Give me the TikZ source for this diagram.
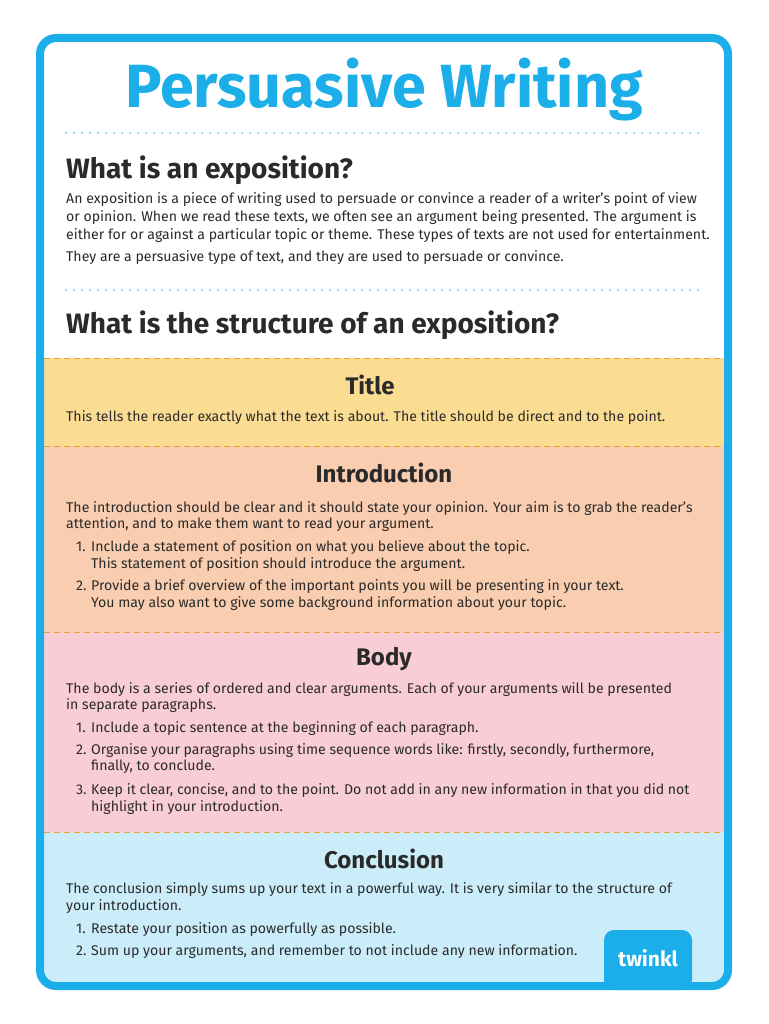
\documentclass[tikz,border=0pt]{standalone}
\usepackage{fontspec}
\setmainfont{Fira Sans}[Numbers=Lining]
\definecolor{tblue}{HTML}{1CAEE9}
\definecolor{tyel}{HTML}{FBDC93}
\definecolor{tpeach}{HTML}{F9CDB0}
\definecolor{tpink}{HTML}{F9CDD5}
\definecolor{tlblue}{HTML}{CBEDFA}
\definecolor{tdash}{HTML}{F0A030}
\definecolor{ttext}{HTML}{2A2A2A}
\begin{document}
\begin{tikzpicture}[x=1pt,y=-1pt,
  txt/.style={anchor=west,inner sep=0,font=\fontsize{14.1}{16}\selectfont,text=ttext},
  num/.style={anchor=west,inner sep=0,font=\fontsize{14.1}{16}\selectfont,text=ttext},
  shead/.style={anchor=center,inner sep=0,font=\fontsize{24}{28}\selectfont\bfseries,text=ttext},
  qhead/.style={anchor=west,inner sep=0,font=\fontsize{28}{32}\selectfont\bfseries,text=ttext},
  sep/.style={tdash,dashed,line width=1pt,dash pattern=on 6pt off 4pt},
  dots/.style={tblue!70,line width=2pt,line cap=round,dash pattern=on 0pt off 8pt}]
\useasboundingbox (0,0) rectangle (768,1024);
\fill[white] (0,0) rectangle (768,1024);
\begin{scope}
\clip[rounded corners=14pt] (42,40) rectangle (726,984);
\fill[tyel] (42,358) rectangle (726,446);
\fill[tpeach] (42,446) rectangle (726,632);
\fill[tpink] (42,632) rectangle (726,832);
\fill[tlblue] (42,832) rectangle (726,984);
\end{scope}
\draw[sep] (44,358) -- (724,358);
\draw[sep] (44,446) -- (724,446);
\draw[sep] (44,632) -- (724,632);
\draw[sep] (44,832) -- (724,832);
\draw[tblue,line width=8pt,rounded corners=16pt] (40,38) rectangle (728,986);
\draw[dots] (66,133) -- (702,133);
\draw[dots] (66,290) -- (702,290);
\node[inner sep=0,font=\fontsize{61}{68}\selectfont\bfseries,text=tblue] (title) at (384,90) {Persuasive Writing};
\node[qhead] (q1) at (66,170) {What is an exposition?};
\node[txt] (a1) at (66,200) {An exposition is a piece of writing used to persuade or convince a reader of a writer’s point of view};
\node[txt] (a2) at (66,218) {or opinion. When we read these texts, we often see an argument being presented. The argument is};
\node[txt] (a3) at (66,236) {either for or against a particular topic or theme. These types of texts are not used for entertainment.};
\node[txt] (a4) at (66,258) {They are a persuasive type of text, and they are used to persuade or convince.};
\node[qhead] (q2) at (66,325) {What is the structure of an exposition?};
\node[shead] (h1) at (370,385) {Title};
\node[txt] (t1) at (66,417) {This tells the reader exactly what the text is about. The title should be direct and to the point.};
\node[shead] (h2) at (384,473) {Introduction};
\node[txt] (i1) at (66,508) {The introduction should be clear and it should state your opinion. Your aim is to grab the reader’s};
\node[txt] (i2) at (66,524) {attention, and to make them want to read your argument.};
\node[num] (in1) at (76,547) {1.};
\node[txt] (i3) at (91,547) {Include a statement of position on what you believe about the topic.};
\node[txt] (i4) at (91,564) {This statement of position should introduce the argument.};
\node[num] (in2) at (76,586) {2.};
\node[txt] (i5) at (91,586) {Provide a brief overview of the important points you will be presenting in your text.};
\node[txt] (i6) at (91,603) {You may also want to give some background information about your topic.};
\node[shead] (h3) at (384,659) {Body};
\node[txt] (b1) at (66,689) {The body is a series of ordered and clear arguments. Each of your arguments will be presented};
\node[txt] (b2) at (66,705) {in separate paragraphs.};
\node[num] (bn1) at (76,728) {1.};
\node[txt] (b3) at (91,728) {Include a topic sentence at the beginning of each paragraph.};
\node[num] (bn2) at (76,750) {2.};
\node[txt] (b4) at (91,750) {Organise your paragraphs using time sequence words like: firstly, secondly, furthermore,};
\node[txt] (b5) at (91,767) {finally, to conclude.};
\node[num] (bn3) at (76,790) {3.};
\node[txt] (b6) at (91,790) {Keep it clear, concise, and to the point. Do not add in any new information in that you did not};
\node[txt] (b7) at (91,807) {highlight in your introduction.};
\node[shead] (h4) at (384,859) {Conclusion};
\node[txt] (c1) at (66,889) {The conclusion simply sums up your text in a powerful way. It is very similar to the structure of};
\node[txt] (c2) at (66,906) {your introduction.};
\node[num] (cn1) at (76,929) {1.};
\node[txt] (c3) at (91,929) {Restate your position as powerfully as possible.};
\node[num] (cn2) at (76,951) {2.};
\node[txt] (c4) at (91,951) {Sum up your arguments, and remember to not include any new information.};
\fill[tblue,rounded corners=10pt] (604,930) rectangle (692,990);
\node[inner sep=0,text=white,font=\fontsize{21}{24}\selectfont\bfseries] (logo) at (648,958) {twinkl};
\end{tikzpicture}
\end{document}
